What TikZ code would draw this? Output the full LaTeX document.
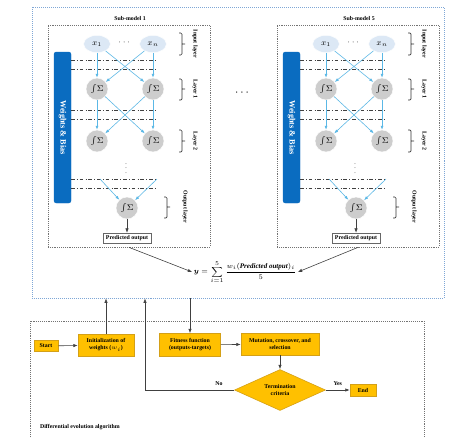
\documentclass[tikz,border=0pt]{standalone}
\usepackage{amsmath}
\usepackage{fontspec}
\setmainfont{Liberation Serif}
\usepackage{tikz}
\usetikzlibrary{arrows.meta,positioning,shapes.geometric}
\definecolor{deorange}{HTML}{FFC000}
\definecolor{deedge}{HTML}{D4A017}
\definecolor{barblue}{HTML}{0A6CC0}
\definecolor{linkblue}{HTML}{5BB8E6}
\definecolor{frameblue}{HTML}{7FA7D6}
\definecolor{neurongray}{HTML}{CDCDCD}
\definecolor{inputfill}{HTML}{DCE8F5}
\tikzset{
  frame/.style={draw=black!55, densely dotted, line width=0.6pt},
  outerframe/.style={draw=frameblue, densely dotted, line width=0.7pt},
  inputnode/.style={ellipse, draw=white, fill=inputfill, minimum width=0.8cm, minimum height=0.52cm, inner sep=0pt, font=\scriptsize},
  neuron/.style={circle, fill=neurongray, draw=white, minimum size=0.66cm, inner sep=0pt, font=\scriptsize},
  link/.style={draw=linkblue, line width=0.5pt, -{Latex[length=1.2mm,width=0.9mm]}},
  guide/.style={draw=black!75, dash dot, line width=0.45pt},
  wbar/.style={rounded corners=2pt, fill=barblue, draw=barblue, text=white, font=\scriptsize\bfseries},
  layerlabel/.style={font=\tiny\bfseries, rotate=-90},
  bracket/.style={draw=black!80, line width=0.5pt, rounded corners=1pt},
  outbox/.style={draw=black!60, fill=white, font=\tiny\bfseries, minimum width=1.44cm, minimum height=0.3cm, inner sep=1pt},
  debox/.style={fill=deorange, draw=deedge, line width=0.5pt, font=\tiny\bfseries, align=center, inner sep=1pt},
  arrow/.style={draw=black!75, line width=0.5pt, -{Latex[length=1.3mm,width=1mm]}},
  note/.style={font=\tiny\bfseries}
}
% one sub-model: #1 shift, #2 prefix, #3 title
\newcommand{\submodel}[3]{%
\begin{scope}[xshift=#1]
  \node[note] (#2title) at (130,18) {#3};
  \node[frame, minimum width=4.86cm, minimum height=6.66cm] (#2frame) at (129,136) {};
  \node[wbar, minimum width=4.53cm, minimum height=0.51cm, rotate=-90] (#2bar) at (62.5,127.5) {Weights \& Bias};

  \node[inputnode] (#2in1) at (97,44) {$x_1$};
  \node[inputnode] (#2inn) at (153,44) {$x_n$};
  \node[font=\scriptsize\bfseries] (#2indots) at (125,43) {$\cdots$};
  \node[neuron] (#2h11) at (97,89) {$\int\!\Sigma$};
  \node[neuron] (#2h12) at (153,89) {$\int\!\Sigma$};
  \node[neuron] (#2h21) at (97,141) {$\int\!\Sigma$};
  \node[neuron] (#2h22) at (153,141) {$\int\!\Sigma$};
  \node[font=\tiny, inner sep=1pt] (#2vdots) at (126,165) {$\vdots$};
  \node[neuron] (#2out) at (127,208) {$\int\!\Sigma$};
  \node[outbox] (#2pred) at (127,238) {Predicted output};

  \draw[guide] (71,60) -- (157,60);
  \draw[guide] (71,69) -- (157,69);
  \draw[guide] (71,110) -- (157,110);
  \draw[guide] (71,119) -- (157,119);
  \draw[guide] (71,179) -- (157,179);
  \draw[guide] (71,188) -- (157,188);

  \draw[link] (#2in1) -- (#2h11);
  \draw[link] (#2in1) -- (#2h12);
  \draw[link] (#2inn) -- (#2h11);
  \draw[link] (#2inn) -- (#2h12);
  \draw[link] (#2h11) -- (#2h21);
  \draw[link] (#2h11) -- (#2h22);
  \draw[link] (#2h12) -- (#2h21);
  \draw[link] (#2h12) -- (#2h22);
  \coordinate (#2c1) at (100,179);
  \coordinate (#2c2) at (157,179);
  \draw[link] (#2c1) -- (#2out);
  \draw[link] (#2c2) -- (#2out);
  \draw[arrow] (#2out) -- (#2pred);

  \draw[bracket] (179,33) -- (182,33) -- (182,55) -- (179,55) (182,44) -- (185,44);
  \node[layerlabel] (#2linput) at (195,44) {Input layer};
  \draw[bracket] (179,79) -- (182,79) -- (182,100) -- (179,100) (182,89) -- (185,89);
  \node[layerlabel] (#2lone) at (195,89) {Layer 1};
  \draw[bracket] (179,130) -- (182,130) -- (182,152) -- (179,152) (182,141) -- (185,141);
  \node[layerlabel] (#2ltwo) at (195,141) {Layer 2};
  \draw[bracket] (164,197) -- (167,197) -- (167,218) -- (164,218) (167,207) -- (170,207);
  \node[layerlabel] (#2lout) at (185,207) {Output layer};
\end{scope}}

\begin{document}
\begin{tikzpicture}[x=0.03cm,y=-0.03cm]
\useasboundingbox (0,0) rectangle (474,437);
\fill[white] (0,0) rectangle (474,437);

\node[outerframe, minimum width=12.36cm, minimum height=8.73cm] (ensemble) at (238,152.5) {};
\submodel{0cm}{sa}{Sub-model 1}
\submodel{6.87cm}{sb}{Sub-model 5}
\node[font=\normalsize\bfseries] (middots) at (243,93) {$\cdots$};

\node[font=\fontsize{6}{7}\selectfont, inner sep=1pt] (formula) at (245,272)
  {$\boldsymbol{y}=\displaystyle\sum_{i=1}^{5}\frac{w_i(\textbf{\textit{Predicted output}})_i}{5}$};
\draw[arrow] (saframe.south) -- (formula.west);
\draw[arrow] (sbframe.south) -- (formula.east);

% differential evolution part
\node[frame, minimum width=11.82cm, minimum height=3.9cm] (deframe) at (227,386) {};
\node[note, anchor=west] (delabel) at (36,427) {Differential evolution algorithm};

\node[debox, minimum width=0.72cm, minimum height=0.33cm] (start) at (46,346) {Start};
\node[debox, minimum width=1.68cm, minimum height=0.66cm] (init) at (106,345) {Initialization of\\weights ($w_i$)};
\node[debox, minimum width=1.83cm, minimum height=0.69cm] (fitness) at (190,345) {Fitness function\\(outputs-targets)};
\node[debox, minimum width=2.34cm, minimum height=0.66cm] (mutation) at (280,344) {Mutation, crossover, and\\selection};
\node[debox, diamond, aspect=2.2, minimum width=2.73cm, minimum height=1.23cm] (term) at (280,390) {Termination\\criteria};
\node[debox, minimum width=0.78cm, minimum height=0.36cm] (end) at (363,390) {End};
\coordinate (noturn) at (145,390);

\draw[arrow] (start) -- (init);
\draw[arrow] (init) -- (init |- ensemble.south);
\draw[arrow] (fitness |- ensemble.south) -- (fitness);
\draw[arrow] (fitness) -- (mutation);
\draw[arrow] (mutation) -- (term);
\draw[arrow] (term) -- node[note, above] {Yes} (end);
\draw[arrow] (term.west) -- node[note, above, pos=0.17] {No} (noturn) -- (noturn |- ensemble.south);
\end{tikzpicture}
\end{document}
